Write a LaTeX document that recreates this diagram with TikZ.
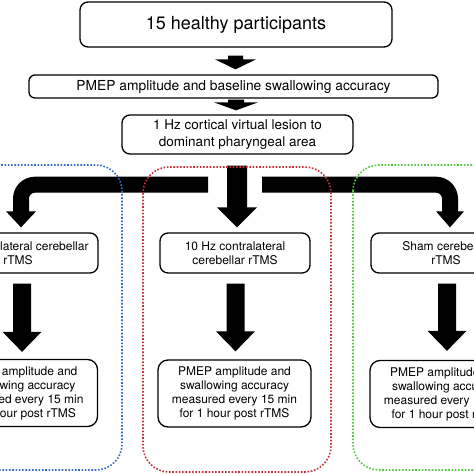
\documentclass[tikz,border=0pt]{standalone}
\usepackage{fontspec}
\setmainfont{TeX Gyre Heros}
\usetikzlibrary{calc}
\definecolor{fblue}{RGB}{55,105,200}
\definecolor{fred}{RGB}{205,45,55}
\definecolor{fgreen}{RGB}{85,200,65}
\newcommand\blockarrow[5]{%
  \fill[black] let \p1=(#1),\p2=(#2) in
    (\x2-#3,\y1) -- (\x2+#3,\y1) -- (\x2+#3,\y2+#5) -- (\x2+#4,\y2+#5) --
    (\x2,\y2) -- (\x2-#4,\y2+#5) -- (\x2-#3,\y2+#5) -- cycle;}
\begin{document}
\begin{tikzpicture}[x=1pt,y=-1pt,
  box/.style={draw=black, line width=1.3pt, rounded corners=8pt, fill=white,
    align=center, inner sep=0pt},
  fbig/.style={font=\fontsize{18pt}{21pt}\selectfont},
  fmid/.style={font=\fontsize{13.8pt}{17pt}\selectfont},
  fsmall/.style={font=\fontsize{12pt}{14pt}\selectfont},
  frame/.style={line width=1.6pt, dash pattern=on 1.6pt off 1.7pt, rounded corners=26pt},
]
\useasboundingbox (0,0) rectangle (474,474);
\clip (0,0) rectangle (474,474);
\fill[white] (0,0) rectangle (474,474);

% boxes
\node[box, fbig, minimum width=312pt, minimum height=45pt] (b1) at (236,24.5) {15 healthy participants};
\node[box, fmid, minimum width=409pt, minimum height=23pt, rounded corners=6pt] (b2) at (233.5,86.5) {PMEP amplitude and baseline swallowing accuracy};
\node[box, fmid, font=\fontsize{13.5pt}{17pt}\selectfont, minimum width=231pt, minimum height=39pt] (b3) at (237.5,134.5) {1 Hz cortical virtual lesion to\\dominant pharyngeal area};

\node[box, fsmall, minimum width=160pt, minimum height=40pt] (r2l) at (18,253) {10 Hz ipsilateral cerebellar\\rTMS};
\node[box, fsmall, minimum width=150pt, minimum height=40pt] (r2m) at (235,253) {10 Hz contralateral\\cerebellar rTMS};
\node[box, fsmall, minimum width=150pt, minimum height=40pt] (r2r) at (446,253) {Sham cerebellar\\rTMS};

\node[box, fsmall, rounded corners=10pt, minimum width=153pt, minimum height=67pt] (r3l) at (21,393) {PMEP amplitude and\\swallowing accuracy\\measured every 15 min\\for 1 hour post rTMS};
\node[box, fsmall, rounded corners=10pt, minimum width=153pt, minimum height=67pt] (r3m) at (234.5,393.5) {PMEP amplitude and\\swallowing accuracy\\measured every 15 min\\for 1 hour post rTMS};
\node[box, fsmall, rounded corners=10pt, minimum width=153pt, minimum height=67pt] (r3r) at (446.5,394) {PMEP amplitude and\\swallowing accuracy\\measured every 15 min\\for 1 hour post rTMS};

% straight block arrows
\blockarrow{$(b1.south)+(0,8)$}{$(b2.north)+(2,-5)$}{7.5pt}{20.5pt}{10pt}
\blockarrow{$(b2.south)+(0,1)$}{$(b3.north)+(-1.5,-4)$}{8pt}{22pt}{8pt}
\blockarrow{$(b3.south)+(0,11)$}{$(r2m.north)+(2,-5)$}{10pt}{20pt}{20pt}
\blockarrow{$(r2l.south)+(0,10)$}{$(r3l.north)+(1,-7)$}{9pt}{19.5pt}{20pt}
\blockarrow{$(r2m.south)+(0,10)$}{$(r3m.north)+(1,-8)$}{9pt}{19.5pt}{20pt}
\blockarrow{$(r2r.south)+(0,10)$}{$(r3r.north)+(0.5,-9)$}{9pt}{19.5pt}{20pt}

% branching arrows
\fill[black] let \p1=($(b3.south)+(0,22)$), \p2=($(r2l.north)+(3,-5)$) in
  (\x1-29.5pt,\y1) -- (\x2+14pt,\y1) arc[start angle=90,end angle=180,radius=22pt]
  -- (\x2-8pt,\y2+16pt) -- (\x2-15pt,\y2+16pt) -- (\x2,\y2) -- (\x2+15pt,\y2+16pt)
  -- (\x2+8pt,\y2+16pt) -- (\x2+8pt,\y1-22pt) arc[start angle=180,end angle=90,radius=6pt]
  -- (\x1-29.5pt,\y1-16pt) -- cycle;
\fill[black] let \p1=($(b3.south)+(0,22)$), \p3=($(r2r.north)+(4,-5)$) in
  (\x1+24.5pt,\y1) -- (\x3-14pt,\y1) arc[start angle=90,end angle=0,radius=22pt]
  -- (\x3+8pt,\y3+16pt) -- (\x3+14pt,\y3+16pt) -- (\x3,\y3) -- (\x3-14pt,\y3+16pt)
  -- (\x3-8pt,\y3+16pt) -- (\x3-8pt,\y1-22pt) arc[start angle=0,end angle=90,radius=6pt]
  -- (\x1+24.5pt,\y1-16pt) -- cycle;

% dotted group frames
\draw[frame, fblue] (-50,165) rectangle (122,470);
\draw[frame, fred] (143,167) rectangle (331,472);
\draw[frame, fgreen] (353,165) rectangle (530,470);
\end{tikzpicture}
\end{document}
